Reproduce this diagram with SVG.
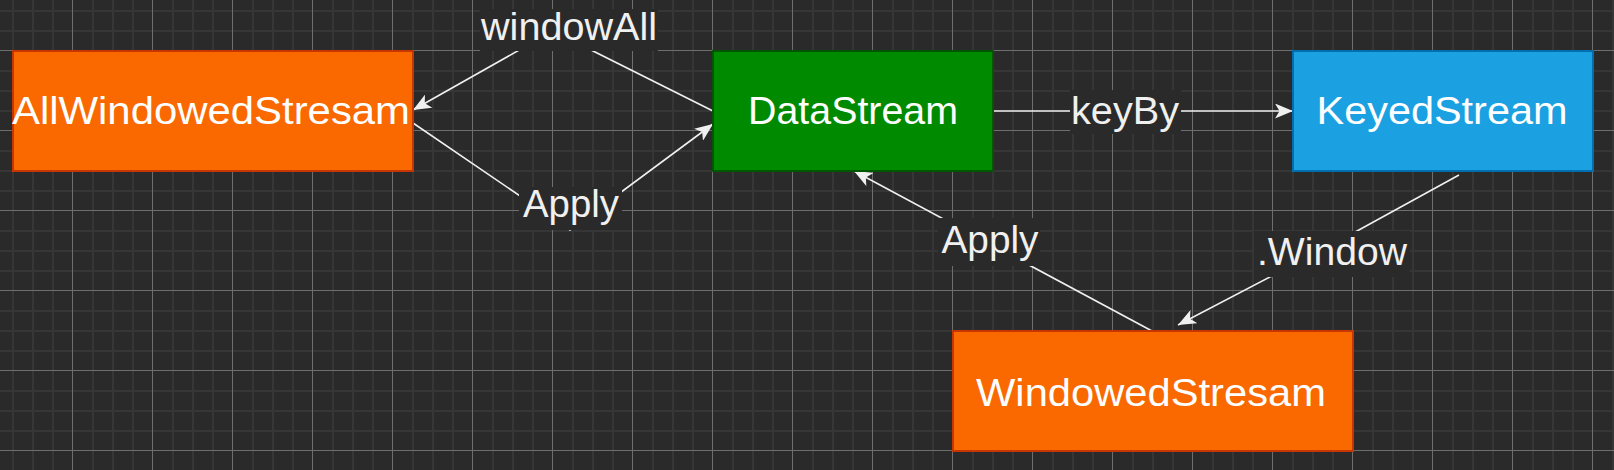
<svg xmlns="http://www.w3.org/2000/svg" width="1614" height="470" viewBox="0 0 1614 470">
  <defs>
    <pattern id="grid" patternUnits="userSpaceOnUse" x="12" y="10" width="80" height="80">
      <rect width="80" height="80" fill="#2a2a2a"/>
      <g fill="#363636">
        <rect x="0" y="0" width="2" height="80"/>
        <rect x="20" y="0" width="2" height="80"/>
        <rect x="40" y="0" width="2" height="80"/>
        <rect x="0" y="0" width="80" height="2"/>
        <rect x="0" y="20" width="80" height="2"/>
        <rect x="0" y="60" width="80" height="2"/>
      </g>
      <g fill="#6e6e6e">
        <rect x="60" y="0" width="1" height="80"/>
        <rect x="0" y="40" width="80" height="1"/>
      </g>
    </pattern>
    <marker id="arrow" markerUnits="userSpaceOnUse" viewBox="0 0 18 15" refX="18" refY="7.5" markerWidth="18" markerHeight="15" orient="auto">
      <path d="M0,0 L18,7.5 L0,15 L4.5,7.5 Z" fill="#f0f0f0"/>
    </marker>
    <style>
      .node-text { font-family: "Liberation Sans", Arial, Helvetica, sans-serif; font-size: 39px; fill: #ffffff; text-anchor: middle; }
      .edge { fill: none; stroke: #f0f0f0; stroke-width: 1.6; marker-end: url(#arrow); }
      .lbl-bg { fill: #2a2a2a; }
      .lbl { font-family: "Liberation Sans", Arial, Helvetica, sans-serif; font-size: 38px; fill: #f0f0f0; text-anchor: middle; }
      .orange { fill: #fa6800; stroke: #c73500; stroke-width: 2; }
      .green { fill: #008a00; stroke: #005700; stroke-width: 2; }
      .blue { fill: #1ba1e2; stroke: #006eaf; stroke-width: 2; }
    </style>
  </defs>
  <rect x="0" y="0" width="1614" height="470" fill="url(#grid)"/>

  <g id="connectors">
    <g id="edge-windowAll">
      <path class="edge" d="M713,111 L553,31 L413,110"/>
      <rect class="lbl-bg" x="480" y="9" width="178" height="42"/>
      <text class="lbl" x="569" y="40" textLength="176" lengthAdjust="spacingAndGlyphs">windowAll</text>
    </g>
    <g id="edge-apply-left">
      <path class="edge" d="M413,123 L570,230 L713,124"/>
      <rect class="lbl-bg" x="519" y="187" width="103" height="43"/>
      <text class="lbl" x="571" y="217" textLength="96" lengthAdjust="spacingAndGlyphs">Apply</text>
    </g>
    <g id="edge-keyBy">
      <path class="edge" d="M993,111 L1293,111"/>
      <rect class="lbl-bg" x="1070" y="90" width="111" height="44"/>
      <text class="lbl" x="1125" y="124" textLength="108" lengthAdjust="spacingAndGlyphs">keyBy</text>
    </g>
    <g id="edge-window">
      <path class="edge" d="M1459,175 L1337,242 L1178,325"/>
      <rect class="lbl-bg" x="1254" y="231" width="156" height="46"/>
      <text class="lbl" x="1332" y="265" textLength="150" lengthAdjust="spacingAndGlyphs">.Window</text>
    </g>
    <g id="edge-apply-bottom">
      <path class="edge" d="M1152,331 L854,171"/>
      <rect class="lbl-bg" x="938" y="218" width="102" height="48"/>
      <text class="lbl" x="990" y="253" textLength="97" lengthAdjust="spacingAndGlyphs">Apply</text>
    </g>
  </g>

  <g id="node-allwindowed">
    <rect class="orange" x="13" y="51" width="400" height="120"/>
    <text class="node-text" x="211" y="124" textLength="398" lengthAdjust="spacingAndGlyphs">AllWindowedStresam</text>
  </g>
  <g id="node-datastream">
    <rect class="green" x="713" y="51" width="280" height="120"/>
    <text class="node-text" x="853" y="124" textLength="210" lengthAdjust="spacingAndGlyphs">DataStream</text>
  </g>
  <g id="node-keyedstream">
    <rect class="blue" x="1293" y="51" width="300" height="120"/>
    <text class="node-text" x="1442" y="124" textLength="251" lengthAdjust="spacingAndGlyphs">KeyedStream</text>
  </g>
  <g id="node-windowed">
    <rect class="orange" x="953" y="331" width="400" height="120"/>
    <text class="node-text" x="1151" y="406" textLength="350" lengthAdjust="spacingAndGlyphs">WindowedStresam</text>
  </g>
</svg>
